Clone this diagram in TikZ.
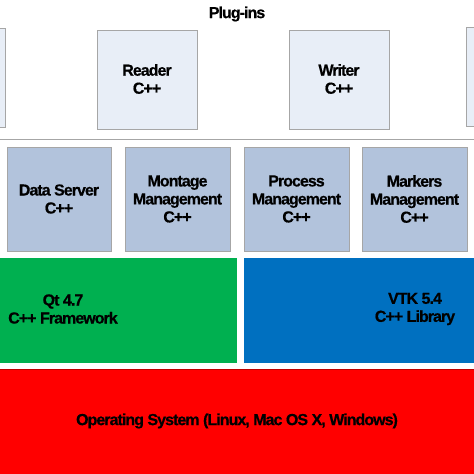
\documentclass[tikz,border=0pt]{standalone}
\usepackage{fontspec}
\setmainfont{Liberation Sans}[LetterSpace=-6,BoldFeatures={FakeBold=0.6}]
\definecolor{plugfill}{HTML}{E8EEF7}
\definecolor{corefill}{HTML}{B2C3DC}
\definecolor{boxline}{HTML}{A6A6A6}
\definecolor{qtgreen}{HTML}{00B050}
\definecolor{vtkblue}{HTML}{0070C0}
\definecolor{osred}{HTML}{FF0000}
\tikzset{
  lbl/.style={font=\fontsize{16}{18}\selectfont\bfseries, align=center, text=black},
  plugbox/.style={draw=boxline, line width=1pt, fill=plugfill},
  corebox/.style={draw=boxline, line width=1pt, fill=corefill},
}
\begin{document}
\begin{tikzpicture}[x=1pt,y=-1pt]
\useasboundingbox (0,0) rectangle (474,474);
\fill[white] (0,0) rectangle (474,474);
% title
\node[lbl] (title) at (237,14) {Plug-ins};
% plug-in boxes
\draw[plugbox] (-20,28) rectangle (5,127);
\draw[plugbox] (97,30) rectangle (197,129);
\node[lbl] (reader) at (147,79) {Reader\\C++};
\draw[plugbox] (289,30) rectangle (389,129);
\node[lbl] (writer) at (339,79) {Writer\\C++};
\draw[plugbox] (466,27) rectangle (500,126);
% separator
\draw[boxline, line width=1pt] (0,139) -- (474,139);
% core boxes
\draw[corebox] (7,147) rectangle (111,251);
\node[lbl] (ds) at (59,199) {Data Server\\C++};
\draw[corebox] (125,147) rectangle (230,251);
\node[lbl] (mm) at (177.5,199) {Montage\\Management\\C++};
\draw[corebox] (244,147) rectangle (349,251);
\node[lbl] (pm) at (296.5,199) {Process\\Management\\C++};
\draw[corebox] (362,147) rectangle (467,251);
\node[lbl] (km) at (414.5,199) {Markers\\Management\\C++};
% libraries
\fill[qtgreen] (0,258) rectangle (237,363);
\node[lbl] (qt) at (63,309) {Qt 4.7\\C++ Framework};
\fill[vtkblue] (244,258) rectangle (474,363);
\node[lbl] (vtk) at (415,309) {VTK 5.4\\C++ Library};
% OS
\fill[osred] (0,369) rectangle (474,474);
\draw[red!75!black, line width=0.6pt] (0,369.3) -- (474,369.3);
\node[lbl] (os) at (237,421) {Operating System (Linux, Mac OS X, Windows)};
\end{tikzpicture}
\end{document}
